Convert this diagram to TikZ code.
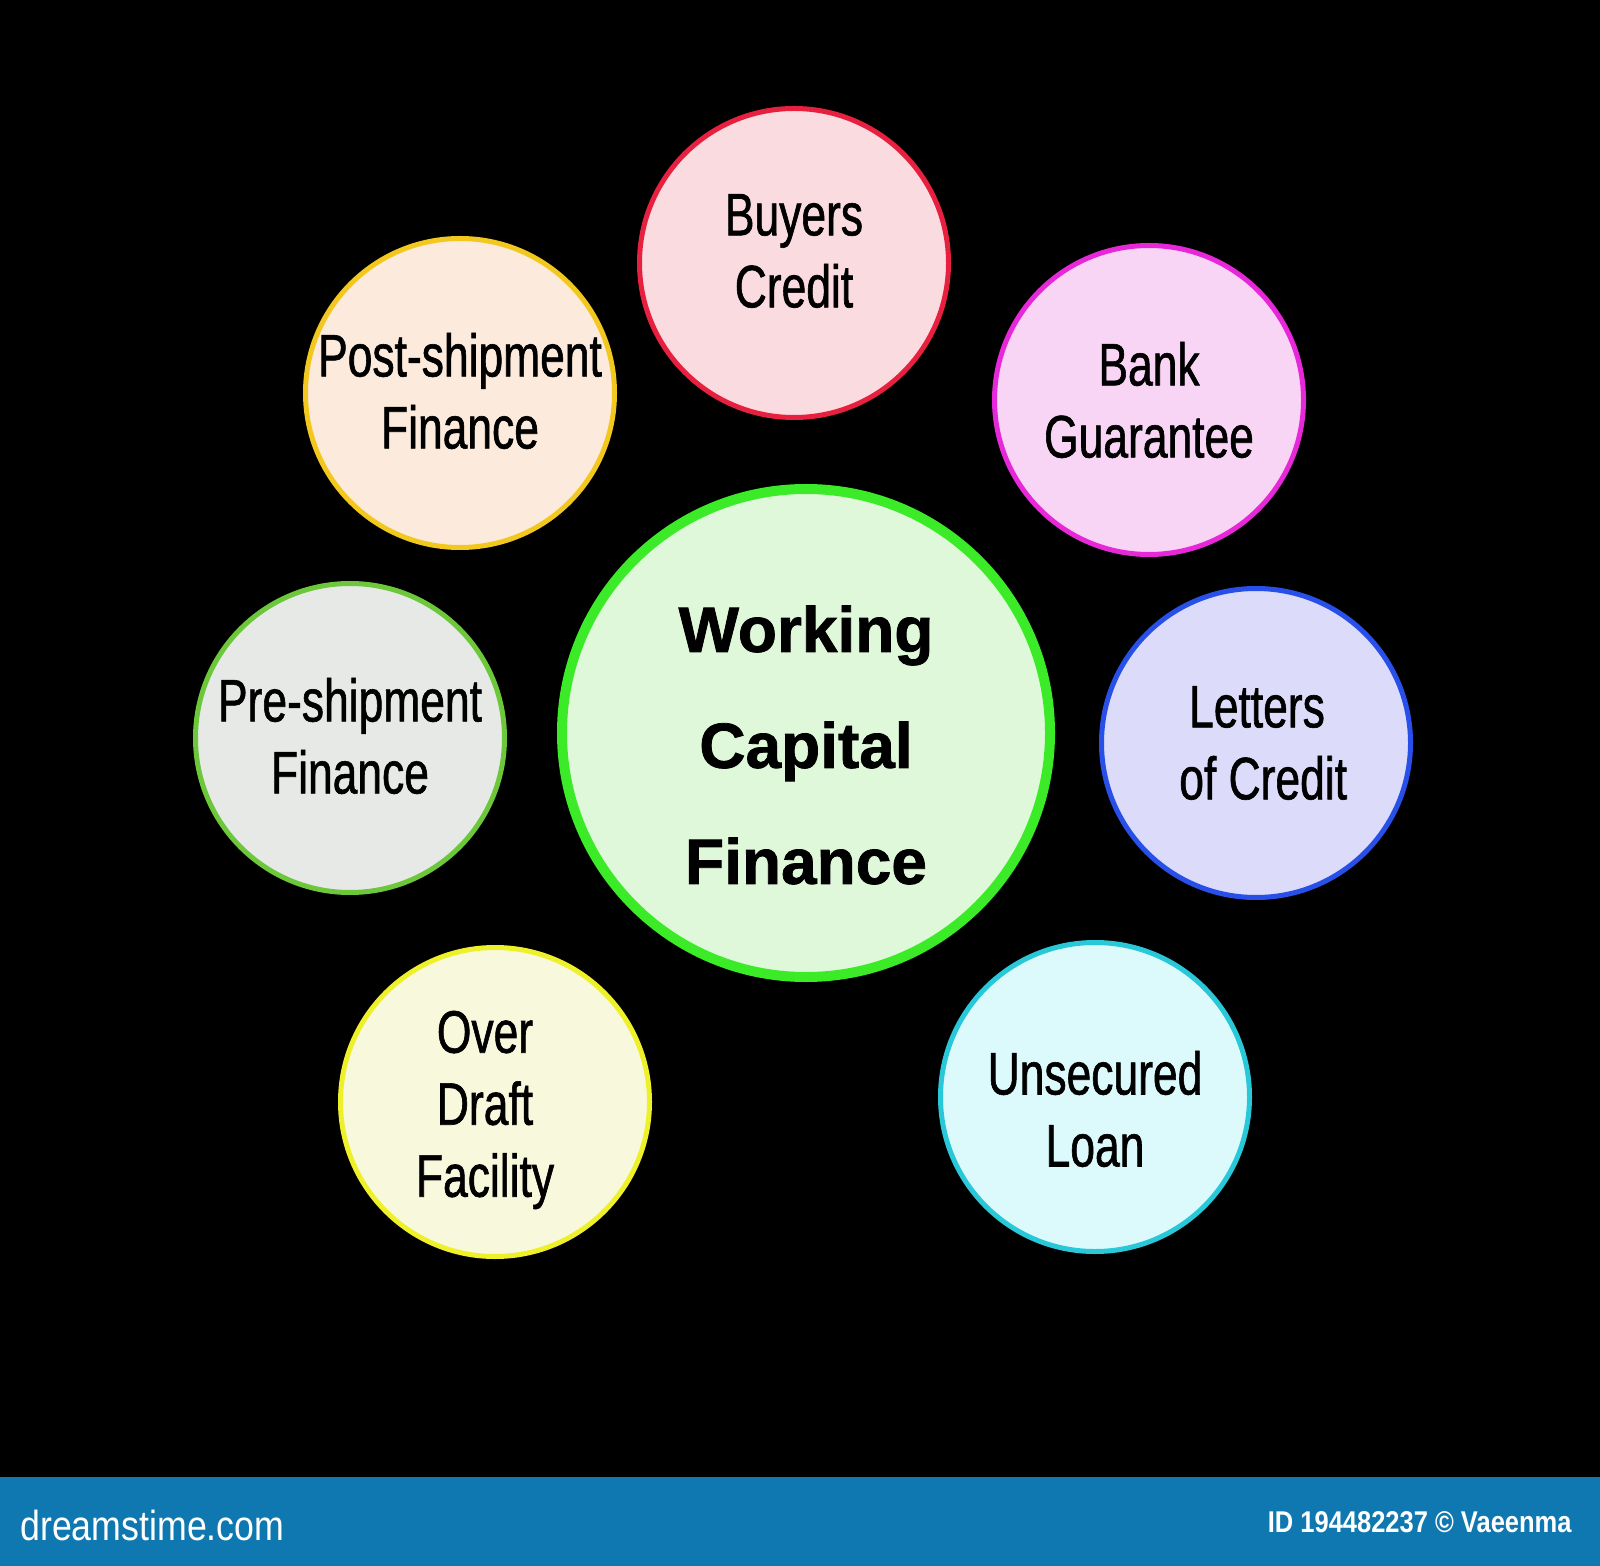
\documentclass[tikz,border=0pt]{standalone}
\usepackage{fontspec}
\setmainfont{Liberation Sans}
\newfontfamily\narrowfont[FakeStretch=0.74, FakeBold=1]{Liberation Sans}
\newfontfamily\hubfont[FakeBold=1.2]{Liberation Sans}
\newfontfamily\stampfont[FakeStretch=0.85]{Liberation Sans}
\usepackage{xcolor}
\usepackage{tikz}
\usetikzlibrary{positioning}

\definecolor{hubfill}{HTML}{E0F8DA}
\definecolor{hubline}{HTML}{3CEB28}
\definecolor{buyfill}{HTML}{FADCE0}
\definecolor{buyline}{HTML}{E82040}
\definecolor{postfill}{HTML}{FCEBDC}
\definecolor{postline}{HTML}{F2C81E}
\definecolor{bankfill}{HTML}{F8D4F5}
\definecolor{bankline}{HTML}{E628D8}
\definecolor{prefill}{HTML}{E6E9E6}
\definecolor{preline}{HTML}{6CC83A}
\definecolor{lcfill}{HTML}{DCDCFA}
\definecolor{lcline}{HTML}{2850E8}
\definecolor{odfill}{HTML}{F8F9DC}
\definecolor{odline}{HTML}{EEF02A}
\definecolor{loanfill}{HTML}{DCFAFC}
\definecolor{loanline}{HTML}{28C8D8}
\definecolor{barblue}{HTML}{0F78B0}

\begin{document}
\begin{tikzpicture}[
        x=0.5pt, y=-0.5pt,
        % Style du cercle central
        hub/.style={
            circle,
            draw=hubline,
            fill=hubfill,
            line width=5pt,
            minimum size=244pt,
            inner sep=0pt
        },
        % Style des bulles autour
        bubble/.style={
            circle,
            line width=2.5pt,
            minimum size=154.5pt,
            inner sep=0pt
        },
        % Style des textes
        hubtext/.style={
            align=center,
            inner sep=0pt,
            font=\hubfont\bfseries\fontsize{32}{58}\selectfont
        },
        bubbletext/.style={
            align=center,
            inner sep=0pt,
            font=\narrowfont\fontsize{30}{36}\selectfont
        },
        % Style du bandeau
        stamp/.style={
            text=white,
            inner sep=0pt
        }
    ]

    % --- FOND ---
    \useasboundingbox (0,0) rectangle (1600,1566);
    \fill [black] (0,0) rectangle (1600,1566);
    \fill [barblue] (0,1477) rectangle (1600,1566);

    % --- CENTRE ---
    \node [hub, label={[hubtext, yshift=-6pt]center:{Working\\Capital\\Finance}}] (wcf) at (806,733) {};

    % --- BULLES ---
    \node [bubble, draw=buyline, fill=buyfill, label={[bubbletext, yshift=6pt]center:{Buyers\\Credit}}] (buyers) at (794,263) {};
    \node [bubble, draw=postline, fill=postfill, label={[bubbletext, yshift=1pt]center:{Post-shipment\\Finance}}] (post) at (460,393) {};
    \node [bubble, draw=bankline, fill=bankfill, label={[bubbletext]center:{Bank\\Guarantee}}] (bank) at (1149,400) {};
    \node [bubble, draw=preline, fill=prefill, label={[bubbletext, yshift=1pt]center:{Pre-shipment\\Finance}}] (pre) at (350,738) {};
    \node [bubble, draw=lcline, fill=lcfill, label={[bubbletext, xshift=0.5pt]center:{Letters\\\ of Credit}}] (letters) at (1256,743) {};
    \node [bubble, draw=odline, fill=odfill, label={[bubbletext, xshift=-5pt, yshift=-4pt]center:{Over\\Draft\\Facility}}] (overdraft) at (495,1102) {};
    \node [bubble, draw=loanline, fill=loanfill, label={[bubbletext, yshift=-6pt]center:{Unsecured\\Loan}}] (loan) at (1095,1097) {};

    % --- BANDEAU ---
    \node [stamp, anchor=west, font=\stampfont\fontsize{21}{24}\selectfont] (brand) at (20,1525) {dreamstime.com};
    \node [stamp, anchor=east, font=\stampfont\bfseries\fontsize{15}{18}\selectfont] (credit) at (1572,1522) {ID 194482237 © Vaeenma};

\end{tikzpicture}
\end{document}
